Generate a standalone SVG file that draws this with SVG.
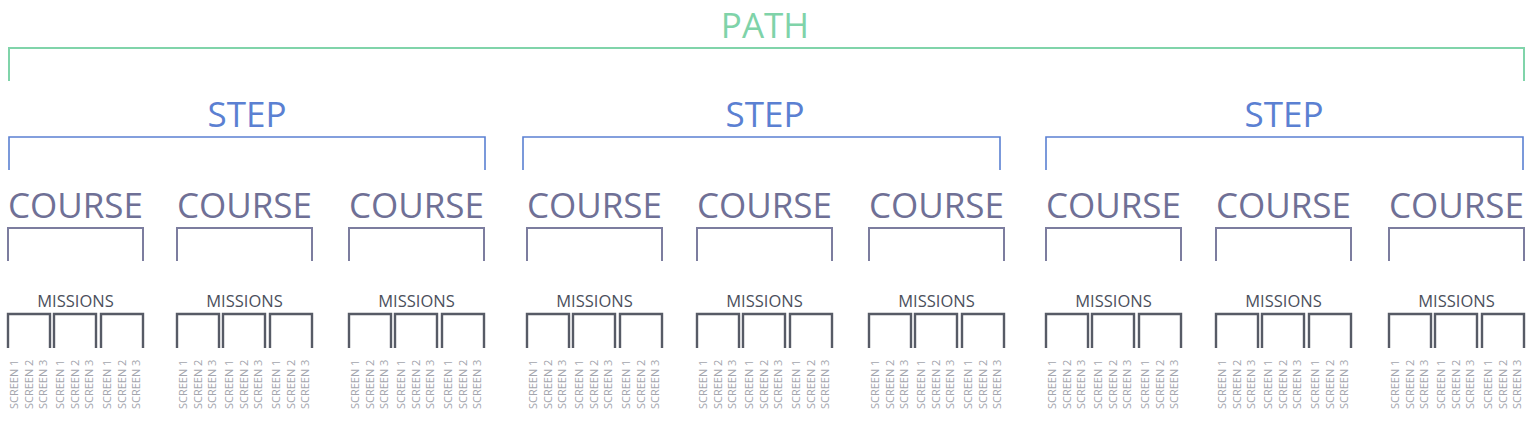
<svg xmlns="http://www.w3.org/2000/svg" width="1536" height="433" viewBox="0 0 1536 433">
<style>
text{font-family:"Open Sans","Noto Sans","Liberation Sans",sans-serif;text-anchor:middle}
.path{fill:#7fd3a9;font-size:35px;font-weight:400}
.step{fill:#5b80d2;font-size:35px;font-weight:400}
.course{fill:#6f7096;font-size:35px;font-weight:400}
.mis{fill:#4b4f5c;font-size:16.5px}
.scr{fill:#a3a5ad;font-size:11px;text-anchor:start;font-weight:400}
.bp{fill:none;stroke:#80d4aa;stroke-width:2}
.bs{fill:none;stroke:#5b80d2;stroke-width:1.6}
.bc{fill:none;stroke:#7c7d9f;stroke-width:2}
.bm{fill:none;stroke:#575b66;stroke-width:2.4}
</style>
<rect width="1536" height="433" fill="#ffffff"/>
<g id="connectors">
<path class="bp" d="M9 81V48H1524V81"/>
<path class="bs" d="M9 170V137H485V170"/>
<path class="bs" d="M523 170V137H1000V170"/>
<path class="bs" d="M1046 170V137H1523V170"/>
<path class="bc" d="M8 261V228H143V261"/>
<path class="bc" d="M177 261V228H312V261"/>
<path class="bc" d="M349 261V228H484V261"/>
<path class="bc" d="M527 261V228H662V261"/>
<path class="bc" d="M697 261V228H832V261"/>
<path class="bc" d="M869 261V228H1004V261"/>
<path class="bc" d="M1046 261V228H1181V261"/>
<path class="bc" d="M1216 261V228H1351V261"/>
<path class="bc" d="M1389 261V228H1524V261"/>
<path class="bm" d="M8 348V314H50V348M54 348V314H96V348M101 348V314H143V348"/>
<path class="bm" d="M177 348V314H219V348M223 348V314H265V348M270 348V314H312V348"/>
<path class="bm" d="M349 348V314H391V348M395 348V314H437V348M442 348V314H484V348"/>
<path class="bm" d="M527 348V314H569V348M573 348V314H615V348M620 348V314H662V348"/>
<path class="bm" d="M697 348V314H739V348M743 348V314H785V348M790 348V314H832V348"/>
<path class="bm" d="M869 348V314H911V348M915 348V314H957V348M962 348V314H1004V348"/>
<path class="bm" d="M1046 348V314H1088V348M1092 348V314H1134V348M1139 348V314H1181V348"/>
<path class="bm" d="M1216 348V314H1258V348M1262 348V314H1304V348M1309 348V314H1351V348"/>
<path class="bm" d="M1389 348V314H1431V348M1435 348V314H1477V348M1482 348V314H1524V348"/>
</g>
<g id="path"><text class="path" x="765" y="38">PATH</text></g>
<g id="step1"><text class="step" x="247" y="127">STEP</text></g>
<g id="step2"><text class="step" x="765" y="127">STEP</text></g>
<g id="step3"><text class="step" x="1284" y="127">STEP</text></g>
<g id="course1"><text class="course" x="75.5" y="218">COURSE</text></g>
<g id="course2"><text class="course" x="244.5" y="218">COURSE</text></g>
<g id="course3"><text class="course" x="416.5" y="218">COURSE</text></g>
<g id="course4"><text class="course" x="594.5" y="218">COURSE</text></g>
<g id="course5"><text class="course" x="764.5" y="218">COURSE</text></g>
<g id="course6"><text class="course" x="936.5" y="218">COURSE</text></g>
<g id="course7"><text class="course" x="1113.5" y="218">COURSE</text></g>
<g id="course8"><text class="course" x="1283.5" y="218">COURSE</text></g>
<g id="course9"><text class="course" x="1456.5" y="218">COURSE</text></g>
<g id="missions1"><text class="mis" x="75.5" y="307">MISSIONS</text></g>
<g id="missions2"><text class="mis" x="244.5" y="307">MISSIONS</text></g>
<g id="missions3"><text class="mis" x="416.5" y="307">MISSIONS</text></g>
<g id="missions4"><text class="mis" x="594.5" y="307">MISSIONS</text></g>
<g id="missions5"><text class="mis" x="764.5" y="307">MISSIONS</text></g>
<g id="missions6"><text class="mis" x="936.5" y="307">MISSIONS</text></g>
<g id="missions7"><text class="mis" x="1113.5" y="307">MISSIONS</text></g>
<g id="missions8"><text class="mis" x="1283.5" y="307">MISSIONS</text></g>
<g id="missions9"><text class="mis" x="1456.5" y="307">MISSIONS</text></g>
<g id="screens1">
<text class="scr" x="18" y="409" transform="rotate(-90 18 409)">SCREEN 1</text>
<text class="scr" x="33" y="409" transform="rotate(-90 33 409)">SCREEN 2</text>
<text class="scr" x="47" y="409" transform="rotate(-90 47 409)">SCREEN 3</text>
<text class="scr" x="64" y="409" transform="rotate(-90 64 409)">SCREEN 1</text>
<text class="scr" x="79" y="409" transform="rotate(-90 79 409)">SCREEN 2</text>
<text class="scr" x="93" y="409" transform="rotate(-90 93 409)">SCREEN 3</text>
<text class="scr" x="111" y="409" transform="rotate(-90 111 409)">SCREEN 1</text>
<text class="scr" x="126" y="409" transform="rotate(-90 126 409)">SCREEN 2</text>
<text class="scr" x="140" y="409" transform="rotate(-90 140 409)">SCREEN 3</text>
</g>
<g id="screens2">
<text class="scr" x="187" y="409" transform="rotate(-90 187 409)">SCREEN 1</text>
<text class="scr" x="202" y="409" transform="rotate(-90 202 409)">SCREEN 2</text>
<text class="scr" x="216" y="409" transform="rotate(-90 216 409)">SCREEN 3</text>
<text class="scr" x="233" y="409" transform="rotate(-90 233 409)">SCREEN 1</text>
<text class="scr" x="248" y="409" transform="rotate(-90 248 409)">SCREEN 2</text>
<text class="scr" x="262" y="409" transform="rotate(-90 262 409)">SCREEN 3</text>
<text class="scr" x="280" y="409" transform="rotate(-90 280 409)">SCREEN 1</text>
<text class="scr" x="295" y="409" transform="rotate(-90 295 409)">SCREEN 2</text>
<text class="scr" x="309" y="409" transform="rotate(-90 309 409)">SCREEN 3</text>
</g>
<g id="screens3">
<text class="scr" x="359" y="409" transform="rotate(-90 359 409)">SCREEN 1</text>
<text class="scr" x="374" y="409" transform="rotate(-90 374 409)">SCREEN 2</text>
<text class="scr" x="388" y="409" transform="rotate(-90 388 409)">SCREEN 3</text>
<text class="scr" x="405" y="409" transform="rotate(-90 405 409)">SCREEN 1</text>
<text class="scr" x="420" y="409" transform="rotate(-90 420 409)">SCREEN 2</text>
<text class="scr" x="434" y="409" transform="rotate(-90 434 409)">SCREEN 3</text>
<text class="scr" x="452" y="409" transform="rotate(-90 452 409)">SCREEN 1</text>
<text class="scr" x="467" y="409" transform="rotate(-90 467 409)">SCREEN 2</text>
<text class="scr" x="481" y="409" transform="rotate(-90 481 409)">SCREEN 3</text>
</g>
<g id="screens4">
<text class="scr" x="537" y="409" transform="rotate(-90 537 409)">SCREEN 1</text>
<text class="scr" x="552" y="409" transform="rotate(-90 552 409)">SCREEN 2</text>
<text class="scr" x="566" y="409" transform="rotate(-90 566 409)">SCREEN 3</text>
<text class="scr" x="583" y="409" transform="rotate(-90 583 409)">SCREEN 1</text>
<text class="scr" x="598" y="409" transform="rotate(-90 598 409)">SCREEN 2</text>
<text class="scr" x="612" y="409" transform="rotate(-90 612 409)">SCREEN 3</text>
<text class="scr" x="630" y="409" transform="rotate(-90 630 409)">SCREEN 1</text>
<text class="scr" x="645" y="409" transform="rotate(-90 645 409)">SCREEN 2</text>
<text class="scr" x="659" y="409" transform="rotate(-90 659 409)">SCREEN 3</text>
</g>
<g id="screens5">
<text class="scr" x="707" y="409" transform="rotate(-90 707 409)">SCREEN 1</text>
<text class="scr" x="722" y="409" transform="rotate(-90 722 409)">SCREEN 2</text>
<text class="scr" x="736" y="409" transform="rotate(-90 736 409)">SCREEN 3</text>
<text class="scr" x="753" y="409" transform="rotate(-90 753 409)">SCREEN 1</text>
<text class="scr" x="768" y="409" transform="rotate(-90 768 409)">SCREEN 2</text>
<text class="scr" x="782" y="409" transform="rotate(-90 782 409)">SCREEN 3</text>
<text class="scr" x="800" y="409" transform="rotate(-90 800 409)">SCREEN 1</text>
<text class="scr" x="815" y="409" transform="rotate(-90 815 409)">SCREEN 2</text>
<text class="scr" x="829" y="409" transform="rotate(-90 829 409)">SCREEN 3</text>
</g>
<g id="screens6">
<text class="scr" x="879" y="409" transform="rotate(-90 879 409)">SCREEN 1</text>
<text class="scr" x="894" y="409" transform="rotate(-90 894 409)">SCREEN 2</text>
<text class="scr" x="908" y="409" transform="rotate(-90 908 409)">SCREEN 3</text>
<text class="scr" x="925" y="409" transform="rotate(-90 925 409)">SCREEN 1</text>
<text class="scr" x="940" y="409" transform="rotate(-90 940 409)">SCREEN 2</text>
<text class="scr" x="954" y="409" transform="rotate(-90 954 409)">SCREEN 3</text>
<text class="scr" x="972" y="409" transform="rotate(-90 972 409)">SCREEN 1</text>
<text class="scr" x="987" y="409" transform="rotate(-90 987 409)">SCREEN 2</text>
<text class="scr" x="1001" y="409" transform="rotate(-90 1001 409)">SCREEN 3</text>
</g>
<g id="screens7">
<text class="scr" x="1056" y="409" transform="rotate(-90 1056 409)">SCREEN 1</text>
<text class="scr" x="1071" y="409" transform="rotate(-90 1071 409)">SCREEN 2</text>
<text class="scr" x="1085" y="409" transform="rotate(-90 1085 409)">SCREEN 3</text>
<text class="scr" x="1102" y="409" transform="rotate(-90 1102 409)">SCREEN 1</text>
<text class="scr" x="1117" y="409" transform="rotate(-90 1117 409)">SCREEN 2</text>
<text class="scr" x="1131" y="409" transform="rotate(-90 1131 409)">SCREEN 3</text>
<text class="scr" x="1149" y="409" transform="rotate(-90 1149 409)">SCREEN 1</text>
<text class="scr" x="1164" y="409" transform="rotate(-90 1164 409)">SCREEN 2</text>
<text class="scr" x="1178" y="409" transform="rotate(-90 1178 409)">SCREEN 3</text>
</g>
<g id="screens8">
<text class="scr" x="1226" y="409" transform="rotate(-90 1226 409)">SCREEN 1</text>
<text class="scr" x="1241" y="409" transform="rotate(-90 1241 409)">SCREEN 2</text>
<text class="scr" x="1255" y="409" transform="rotate(-90 1255 409)">SCREEN 3</text>
<text class="scr" x="1272" y="409" transform="rotate(-90 1272 409)">SCREEN 1</text>
<text class="scr" x="1287" y="409" transform="rotate(-90 1287 409)">SCREEN 2</text>
<text class="scr" x="1301" y="409" transform="rotate(-90 1301 409)">SCREEN 3</text>
<text class="scr" x="1319" y="409" transform="rotate(-90 1319 409)">SCREEN 1</text>
<text class="scr" x="1334" y="409" transform="rotate(-90 1334 409)">SCREEN 2</text>
<text class="scr" x="1348" y="409" transform="rotate(-90 1348 409)">SCREEN 3</text>
</g>
<g id="screens9">
<text class="scr" x="1399" y="409" transform="rotate(-90 1399 409)">SCREEN 1</text>
<text class="scr" x="1414" y="409" transform="rotate(-90 1414 409)">SCREEN 2</text>
<text class="scr" x="1428" y="409" transform="rotate(-90 1428 409)">SCREEN 3</text>
<text class="scr" x="1445" y="409" transform="rotate(-90 1445 409)">SCREEN 1</text>
<text class="scr" x="1460" y="409" transform="rotate(-90 1460 409)">SCREEN 2</text>
<text class="scr" x="1474" y="409" transform="rotate(-90 1474 409)">SCREEN 3</text>
<text class="scr" x="1492" y="409" transform="rotate(-90 1492 409)">SCREEN 1</text>
<text class="scr" x="1507" y="409" transform="rotate(-90 1507 409)">SCREEN 2</text>
<text class="scr" x="1521" y="409" transform="rotate(-90 1521 409)">SCREEN 3</text>
</g>
</svg>
